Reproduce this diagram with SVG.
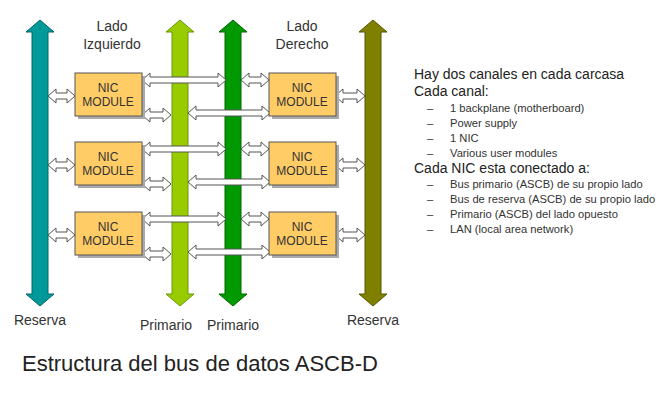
<svg xmlns="http://www.w3.org/2000/svg" width="671" height="408" viewBox="0 0 671 408">
<style>
text{font-family:"Liberation Sans",Arial,sans-serif;fill:#222}
.lbl{font-size:14px;text-anchor:middle;fill:#333}
.nic{font-size:12px;text-anchor:middle;fill:#333}
.box{fill:#ffcc66;stroke:#555;stroke-width:1}
.sh{fill:#aaa}
.da{fill:#fff;stroke:#555;stroke-width:1}
.h{font-size:14px}
.it{font-size:11.2px;fill:#333}
</style>
<defs>
<polygon id="bus" points="0,-143 14,-131 8,-131 8,131 14,131 0,143 -14,131 -8,131 -8,-131 -14,-131"/>
</defs>
<rect width="671" height="408" fill="#fff"/>
<g id="buses" stroke-width="1">
<use href="#bus" transform="translate(40,163)" fill="#009999" stroke="#006666"/>
<use href="#bus" transform="translate(180,163)" fill="#99cc00" stroke="#669900"/>
<use href="#bus" transform="translate(233,163)" fill="#009900" stroke="#006600"/>
<use href="#bus" transform="translate(373,163)" fill="#808000" stroke="#555500"/>
</g>
<g id="labels">
<text class="lbl" x="112" y="31">Lado</text>
<text class="lbl" x="112" y="49">Izquierdo</text>
<text class="lbl" x="302" y="31">Lado</text>
<text class="lbl" x="302" y="49">Derecho</text>
<text class="lbl" x="40" y="325">Reserva</text>
<text class="lbl" x="166" y="330">Primario</text>
<text class="lbl" x="233" y="330">Primario</text>
<text class="lbl" x="373" y="325">Reserva</text>
</g>
<g id="connectors">
<polygon class="da" points="48,96 56,89 56,93 67,93 67,89 75,96 67,103 67,99 56,99 56,103"/>
<polygon class="da" points="142,80 150,73 150,77 218,77 218,73 226,80 218,87 218,83 150,83 150,87"/>
<polygon class="da" points="142,115 150,108 150,112 163,112 163,108 171,115 163,122 163,118 150,118 150,122"/>
<polygon class="da" points="241,80 249,73 249,77 261,77 261,73 269,80 261,87 261,83 249,83 249,87"/>
<polygon class="da" points="188,113 196,106 196,110 262,110 262,106 270,113 262,120 262,116 196,116 196,120"/>
<polygon class="da" points="335,96 343,89 343,93 357,93 357,89 365,96 357,103 357,99 343,99 343,103"/>
<g transform="translate(0,69)">
<polygon class="da" points="48,96 56,89 56,93 67,93 67,89 75,96 67,103 67,99 56,99 56,103"/>
<polygon class="da" points="142,80 150,73 150,77 218,77 218,73 226,80 218,87 218,83 150,83 150,87"/>
<polygon class="da" points="142,115 150,108 150,112 163,112 163,108 171,115 163,122 163,118 150,118 150,122"/>
<polygon class="da" points="241,80 249,73 249,77 261,77 261,73 269,80 261,87 261,83 249,83 249,87"/>
<polygon class="da" points="188,113 196,106 196,110 262,110 262,106 270,113 262,120 262,116 196,116 196,120"/>
<polygon class="da" points="335,96 343,89 343,93 357,93 357,89 365,96 357,103 357,99 343,99 343,103"/>
</g>
<g transform="translate(0,139)">
<polygon class="da" points="48,96 56,89 56,93 67,93 67,89 75,96 67,103 67,99 56,99 56,103"/>
<polygon class="da" points="142,80 150,73 150,77 218,77 218,73 226,80 218,87 218,83 150,83 150,87"/>
<polygon class="da" points="142,115 150,108 150,112 163,112 163,108 171,115 163,122 163,118 150,118 150,122"/>
<polygon class="da" points="241,80 249,73 249,77 261,77 261,73 269,80 261,87 261,83 249,83 249,87"/>
<polygon class="da" points="188,113 196,106 196,110 262,110 262,106 270,113 262,120 262,116 196,116 196,120"/>
<polygon class="da" points="335,96 343,89 343,93 357,93 357,89 365,96 357,103 357,99 343,99 343,103"/>
</g>
</g>
<g id="nicL1"><rect class="sh" x="78" y="76" width="67" height="43"/><rect class="box" x="75" y="73" width="67" height="43"/><text class="nic" x="108" y="92">NIC</text><text class="nic" x="108" y="106">MODULE</text></g>
<g id="nicL2"><rect class="sh" x="78" y="145" width="67" height="43"/><rect class="box" x="75" y="142" width="67" height="43"/><text class="nic" x="108" y="161">NIC</text><text class="nic" x="108" y="175">MODULE</text></g>
<g id="nicL3"><rect class="sh" x="78" y="215" width="67" height="43"/><rect class="box" x="75" y="212" width="67" height="43"/><text class="nic" x="108" y="231">NIC</text><text class="nic" x="108" y="245">MODULE</text></g>
<g id="nicR1"><rect class="sh" x="272" y="76" width="67" height="43"/><rect class="box" x="269" y="73" width="67" height="43"/><text class="nic" x="302" y="92">NIC</text><text class="nic" x="302" y="106">MODULE</text></g>
<g id="nicR2"><rect class="sh" x="272" y="145" width="67" height="43"/><rect class="box" x="269" y="142" width="67" height="43"/><text class="nic" x="302" y="161">NIC</text><text class="nic" x="302" y="175">MODULE</text></g>
<g id="nicR3"><rect class="sh" x="272" y="215" width="67" height="43"/><rect class="box" x="269" y="212" width="67" height="43"/><text class="nic" x="302" y="231">NIC</text><text class="nic" x="302" y="245">MODULE</text></g>
<g id="notes">
<text class="h" x="414" y="79">Hay dos canales en cada carcasa</text>
<text class="h" x="414" y="96">Cada canal:</text>
<text class="it" x="427" y="112">–</text><text class="it" x="450" y="112">1 backplane (motherboard)</text>
<text class="it" x="427" y="127">–</text><text class="it" x="450" y="127">Power supply</text>
<text class="it" x="427" y="142">–</text><text class="it" x="450" y="142">1 NIC</text>
<text class="it" x="427" y="157">–</text><text class="it" x="450" y="157">Various user modules</text>
<text class="h" x="414" y="173">Cada NIC esta conectado a:</text>
<text class="it" x="427" y="188">–</text><text class="it" x="450" y="188">Bus primario (ASCB) de su propio lado</text>
<text class="it" x="427" y="203">–</text><text class="it" x="450" y="203">Bus de reserva (ASCB) de su propio lado</text>
<text class="it" x="427" y="218">–</text><text class="it" x="450" y="218">Primario (ASCB) del lado opuesto</text>
<text class="it" x="427" y="233">–</text><text class="it" x="450" y="233">LAN (local area network)</text>
</g>
<text x="22" y="371" font-size="22" fill="#111">Estructura del bus de datos ASCB-D</text>
</svg>
